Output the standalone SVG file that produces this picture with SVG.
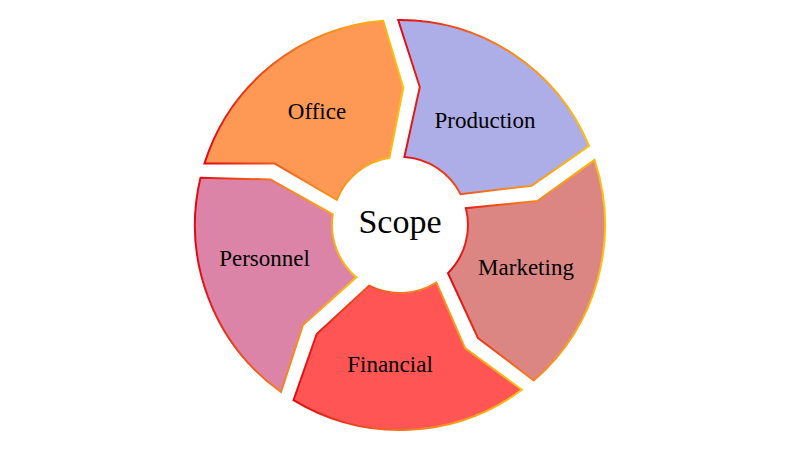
<svg xmlns="http://www.w3.org/2000/svg" width="800" height="450" viewBox="0 0 800 450">
  <style>
    .seg { stroke: url(#edge); stroke-width: 2; stroke-linejoin: miter; }
    .lbl { font-family: "Liberation Serif", "DejaVu Serif", serif; font-size: 23px; fill: #000; text-anchor: middle; }
    .hub { font-family: "Liberation Serif", "DejaVu Serif", serif; font-size: 34px; fill: #000; text-anchor: middle; }
  </style>
  <defs>
    <linearGradient id="edge" x1="0" y1="0" x2="1" y2="0">
      <stop offset="0" stop-color="#E30613"/>
      <stop offset="0.5" stop-color="#F47B20"/>
      <stop offset="1" stop-color="#FFC20E"/>
    </linearGradient>
  </defs>
  <rect width="800" height="450" fill="#FFFFFF"/>
  <g id="hub">
    <circle cx="400" cy="225" r="67" fill="#FFFFFF"/>
    <text class="hub" x="400" y="233">Scope</text>
  </g>
  <g id="production">
    <path class="seg" fill="#ADADE7" d="M398.2,20.0 A205,205 0 0 1 589.1,145.9 L531.6,185.7 L460.6,194.2 A68,68 0 0 0 404.4,157.1 L419.8,87.0 Z"/>
    <text class="lbl" x="485" y="128">Production</text>
  </g>
  <g id="marketing">
    <path class="seg" fill="#DC8684" d="M594.4,159.9 A205,205 0 0 1 533.7,380.4 L478.0,338.0 L448.0,273.1 A68,68 0 0 0 465.9,208.2 L537.4,201.1 Z"/>
    <text class="lbl" x="526" y="275">Marketing</text>
  </g>
  <g id="financial">
    <path class="seg" fill="#FF5555" d="M521.9,389.8 A205,205 0 0 1 293.5,400.2 L316.7,334.1 L369.1,285.6 A68,68 0 0 0 436.3,282.5 L465.2,348.3 Z"/>
    <text class="lbl" x="390" y="372">Financial</text>
  </g>
  <g id="personnel">
    <path class="seg" fill="#DC84A8" d="M281.0,391.9 A205,205 0 0 1 200.5,177.8 L270.4,179.5 L332.8,214.3 A68,68 0 0 0 356.5,277.3 L302.9,325.1 Z"/>
    <text class="lbl" x="264.5" y="266">Personnel</text>
  </g>
  <g id="office">
    <path class="seg" fill="#FD9955" d="M204.5,163.4 A205,205 0 0 1 383.2,20.7 L403.3,87.7 L389.4,157.8 A68,68 0 0 0 336.8,199.8 L274.8,163.6 Z"/>
    <text class="lbl" x="317" y="119">Office</text>
  </g>
  <g id="connectors"/>
</svg>
